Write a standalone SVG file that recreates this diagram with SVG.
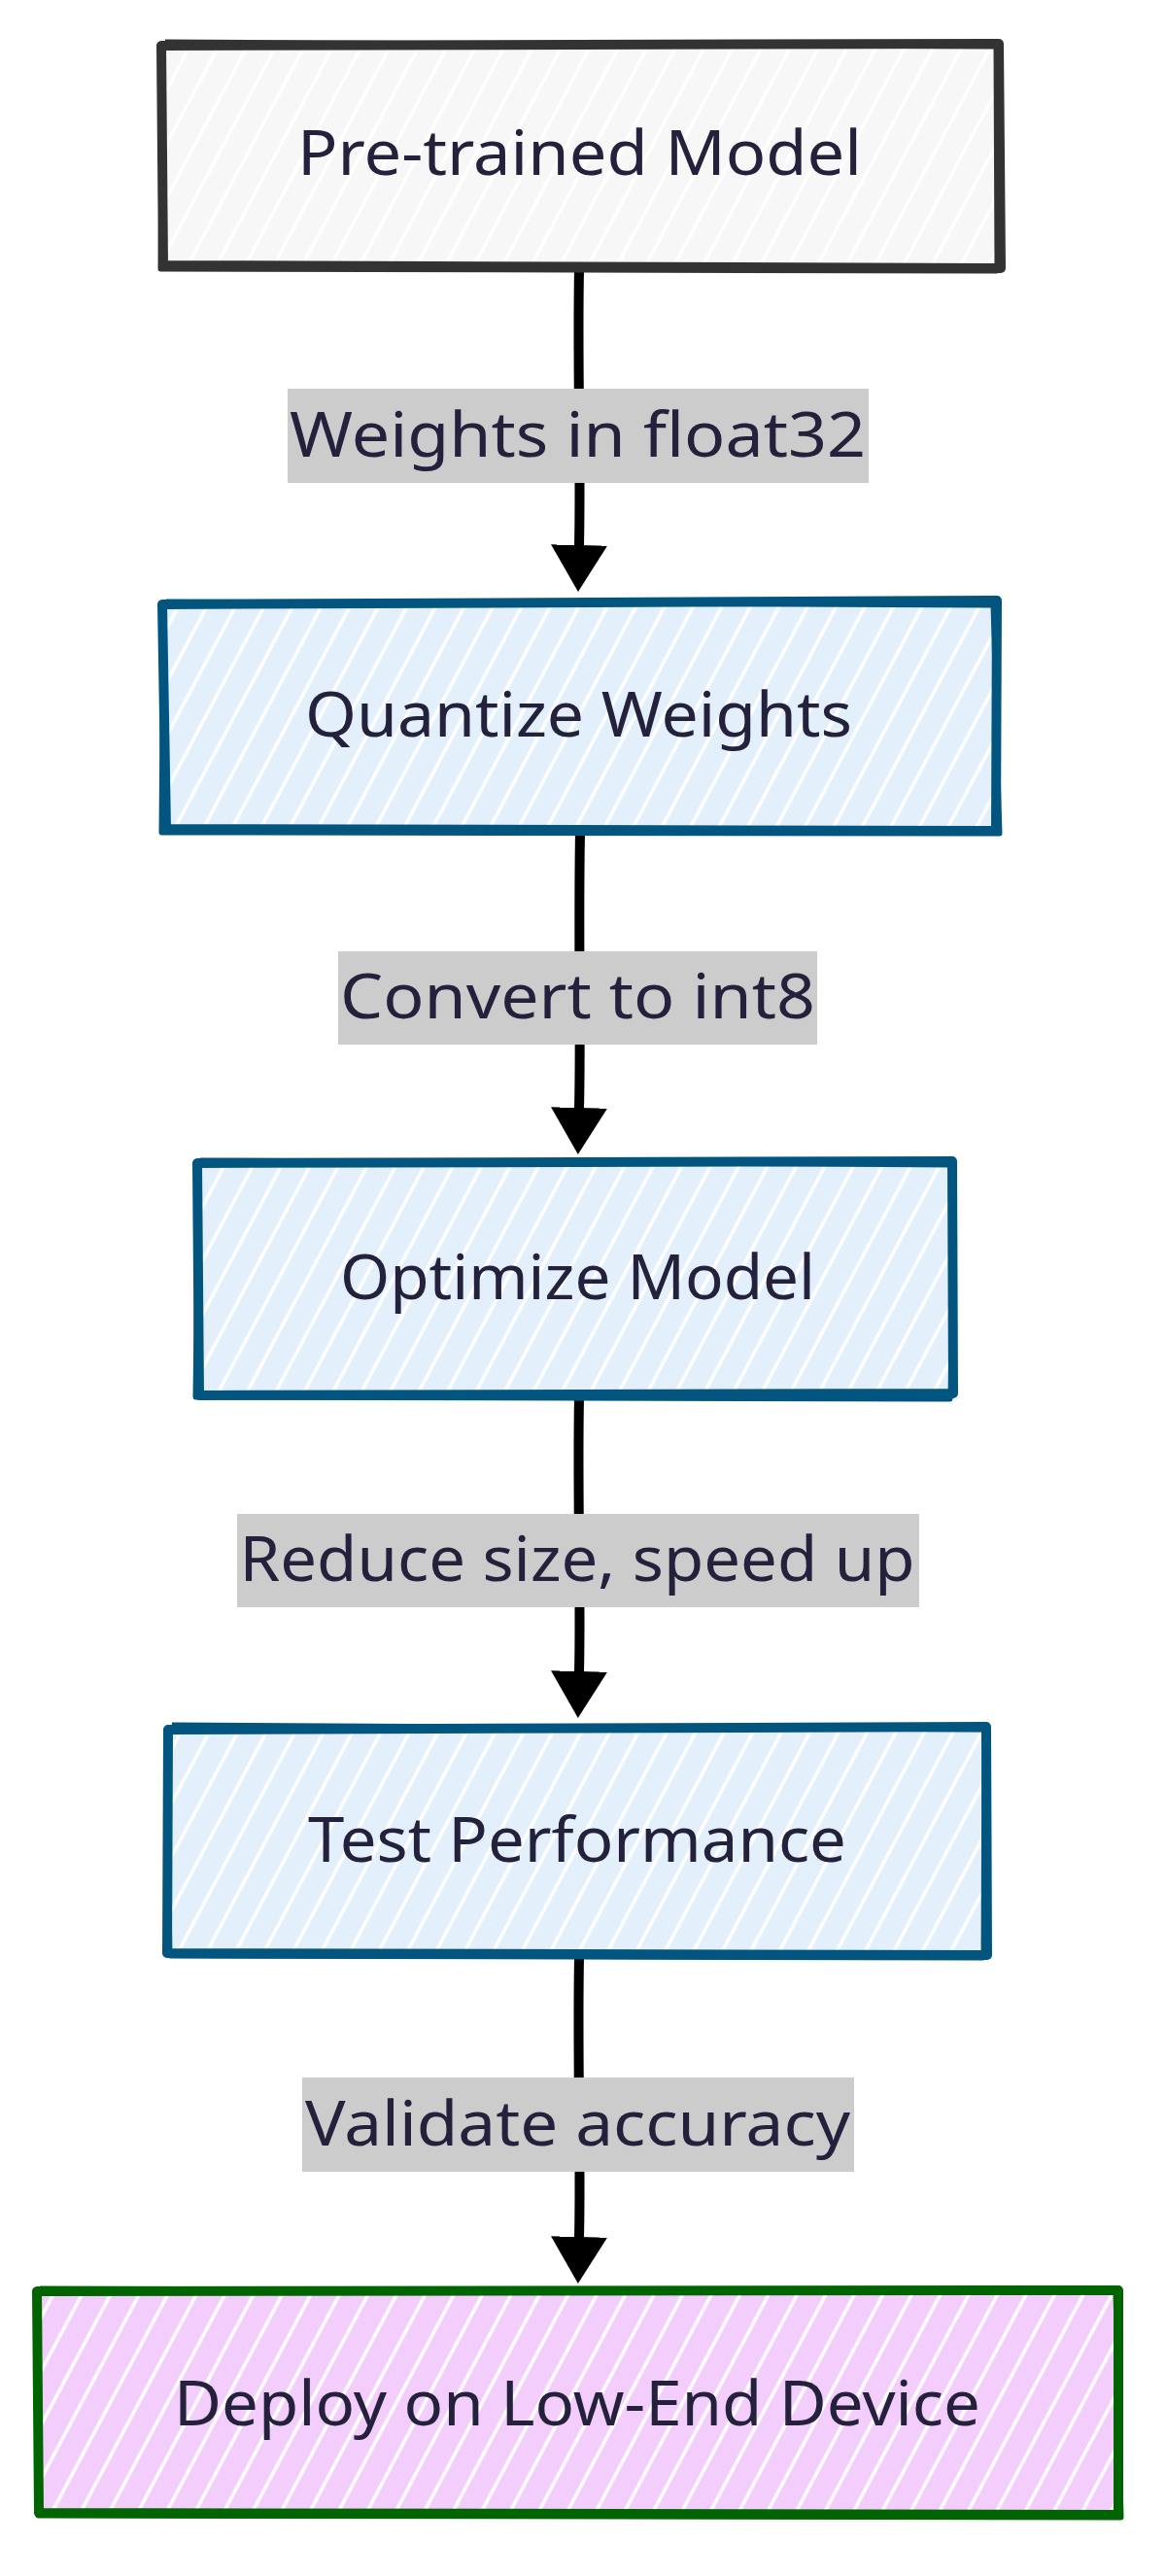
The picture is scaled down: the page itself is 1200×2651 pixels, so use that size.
<svg xmlns="http://www.w3.org/2000/svg" width="1200" height="2651" viewBox="0 0 1200 2651">
  <defs>
    <pattern id="hatch" width="26" height="26" patternUnits="userSpaceOnUse" patternTransform="rotate(28)">
      <line x1="13" y1="0" x2="13" y2="26" stroke="#ffffff" stroke-width="3.5"/>
    </pattern>
    <marker id="arrow" viewBox="0 0 48 58" refX="1" refY="29" markerWidth="48" markerHeight="58" markerUnits="userSpaceOnUse" orient="auto">
      <path d="M0,0 L48,29 L0,58 Z" fill="#000000"/>
    </marker>
  </defs>
  <style>
    .txt { font-family: "Noto Sans", "Open Sans", "Liberation Sans", sans-serif; font-size: 63px; fill: #24213c; text-anchor: middle; }
    .edge { fill: none; stroke: #000000; stroke-width: 10; stroke-linecap: butt; }
    .lbl { fill: #cccccc; }
    .hatch { fill: url(#hatch); }
    .b-dark { fill: none; stroke: #333333; stroke-linejoin: round; }
    .b-blue { fill: none; stroke: #02557f; stroke-linejoin: round; }
    .b-green { fill: none; stroke: #006400; stroke-linejoin: round; }
  </style>
  <rect width="1200" height="2651" fill="#ffffff"/>

  <g id="connectors">
    <path class="edge" d="M596,278 C594,380 598,470 596,562" marker-end="url(#arrow)"/>
    <path class="edge" d="M597,858 C595,960 598,1060 596,1141" marker-end="url(#arrow)"/>
    <path class="edge" d="M596,1438 C594,1540 598,1640 596,1721" marker-end="url(#arrow)"/>
    <path class="edge" d="M596,2015 C594,2120 598,2220 596,2303" marker-end="url(#arrow)"/>
    <g id="label-1">
      <rect class="lbl" x="296" y="400" width="598" height="97"/>
      <text class="txt" x="594.5" y="470" textLength="593" lengthAdjust="spacingAndGlyphs">Weights in float32</text>
    </g>
    <g id="label-2">
      <rect class="lbl" x="348" y="979" width="493" height="96"/>
      <text class="txt" x="594.5" y="1048" textLength="489" lengthAdjust="spacingAndGlyphs">Convert to int8</text>
    </g>
    <g id="label-3">
      <rect class="lbl" x="244" y="1558" width="702" height="96"/>
      <text class="txt" x="594" y="1627" textLength="695" lengthAdjust="spacingAndGlyphs">Reduce size, speed up</text>
    </g>
    <g id="label-4">
      <rect class="lbl" x="311" y="2138" width="568" height="97"/>
      <text class="txt" x="594.5" y="2208" textLength="561" lengthAdjust="spacingAndGlyphs">Validate accuracy</text>
    </g>
  </g>

  <g id="node-pretrained">
    <rect x="168" y="46" width="858" height="229" fill="#f7f7f7"/>
    <rect class="hatch" x="168" y="46" width="858" height="229"/>
    <path class="b-dark" stroke-width="10" d="M166,47 L1028,45 L1030,276 L168,273 Z"/>
    <path class="b-dark" stroke-width="5" d="M170,43 L1025,48 L1026,279 L165,277 L167,45"/>
    <text class="txt" x="596.5" y="180" textLength="581" lengthAdjust="spacingAndGlyphs">Pre-trained Model</text>
  </g>

  <g id="node-quantize">
    <rect x="170" y="621" width="854" height="233" fill="#e3f0fc"/>
    <rect class="hatch" x="170" y="621" width="854" height="233"/>
    <path class="b-blue" stroke-width="10" d="M167,622 L1026,618 L1025,855 L171,853 Z"/>
    <path class="b-blue" stroke-width="5" d="M171,619 L1022,623 L1029,858 L166,857 L168,624"/>
    <text class="txt" x="595.5" y="758" textLength="563" lengthAdjust="spacingAndGlyphs">Quantize Weights</text>
  </g>

  <g id="node-optimize">
    <rect x="205" y="1198" width="775" height="237" fill="#e3f0fc"/>
    <rect class="hatch" x="205" y="1198" width="775" height="237"/>
    <path class="b-blue" stroke-width="10" d="M203,1197 L980,1195 L981,1434 L205,1436 Z"/>
    <path class="b-blue" stroke-width="5" d="M206,1194 L982,1199 L978,1440 L201,1438 L204,1199"/>
    <text class="txt" x="594.5" y="1337" textLength="489" lengthAdjust="spacingAndGlyphs">Optimize Model</text>
  </g>

  <g id="node-test">
    <rect x="175" y="1779" width="839" height="233" fill="#e3f0fc"/>
    <rect class="hatch" x="175" y="1779" width="839" height="233"/>
    <path class="b-blue" stroke-width="10" d="M173,1780 L1015,1777 L1016,2012 L172,2010 Z"/>
    <path class="b-blue" stroke-width="5" d="M177,1775 L1013,1780 L1012,2015 L175,2013 L171,1782"/>
    <text class="txt" x="594" y="1916" textLength="554" lengthAdjust="spacingAndGlyphs">Test Performance</text>
  </g>

  <g id="node-deploy">
    <rect x="40" y="2359" width="1111" height="230" fill="#f3cdfb"/>
    <rect class="hatch" x="40" y="2359" width="1111" height="230"/>
    <path class="b-green" stroke-width="10" d="M38,2358 L1151,2357 L1151,2588 L40,2586 Z"/>
    <path class="b-green" stroke-width="5" d="M41,2355 L1148,2359 L1154,2591 L39,2589 L37,2361"/>
    <text class="txt" x="594" y="2496" textLength="830" lengthAdjust="spacingAndGlyphs">Deploy on Low-End Device</text>
  </g>
</svg>
